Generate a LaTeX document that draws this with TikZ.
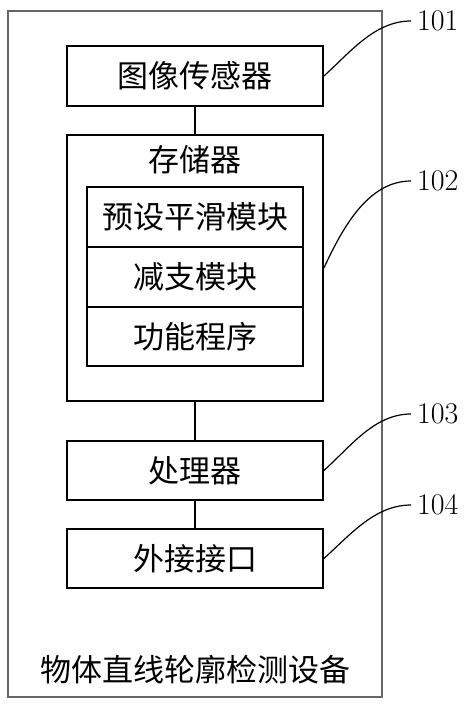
\documentclass[tikz,border=0pt]{standalone}
\usepackage{fontspec}
\newfontfamily\cjk{Noto Sans CJK SC}
\begin{document}
\begin{tikzpicture}[x=1pt,y=-1pt,
  blk/.style={draw=black,line width=1.8pt,minimum width=256pt,inner sep=0pt,font=\cjk\fontsize{31}{31}\selectfont},
  modbox/.style={draw=black,line width=1.8pt,minimum width=216pt,minimum height=59.5pt,inner sep=0pt,font=\cjk\fontsize{31}{31}\selectfont},
  lbl/.style={anchor=west,inner sep=0pt,font=\fontsize{30}{30}\selectfont},
  lead/.style={line width=1.2pt},
  conn/.style={line width=1.8pt}]
\useasboundingbox (0,0) rectangle (474,706);
% outer device box
\node[draw=black!60,line width=1.2pt,minimum width=374pt,minimum height=686pt,inner sep=0pt] (dev) at (195,354) {};
\node[font=\cjk\fontsize{31}{31}\selectfont] (devtxt) at (195,670) {物体直线轮廓检测设备};
% blocks
\node[blk,minimum height=60pt] (sensor) at (195,76) {图像传感器};
\node[blk,minimum height=266pt] (mem) at (195,268) {};
\node[font=\cjk\fontsize{31}{31}\selectfont] (memtxt) at (195,160) {存储器};
\node[modbox] (m1) at (195,217) {预设平滑模块};
\node[modbox] (m2) at (195,277) {减支模块};
\node[modbox] (m3) at (195,336.5) {功能程序};
\node[blk,minimum height=59pt] (cpu) at (195,470.5) {处理器};
\node[blk,minimum height=59pt] (io) at (195,558.5) {外接接口};
% connectors
\draw[conn] (sensor.south) -- (mem.north);
\draw[conn] (mem.south) -- (cpu.north);
\draw[conn] (cpu.south) -- (io.north);
% labels
\node[lbl] (l101) at (417,21) {101};
\node[lbl] (l102) at (417,181) {102};
\node[lbl] (l103) at (417,414) {103};
\node[lbl] (l104) at (417,505) {104};
\draw[lead] (sensor.east) to[out=42,in=180,looseness=0.9] ([xshift=-6pt]l101.west);
\draw[lead] (mem.east) to[out=65,in=180,looseness=0.9] ([xshift=-6pt]l102.west);
\draw[lead] (cpu.east) to[out=42,in=180,looseness=0.9] ([xshift=-6pt]l103.west);
\draw[lead] (io.east) to[out=42,in=180,looseness=0.9] ([xshift=-6pt]l104.west);
\end{tikzpicture}
\end{document}
